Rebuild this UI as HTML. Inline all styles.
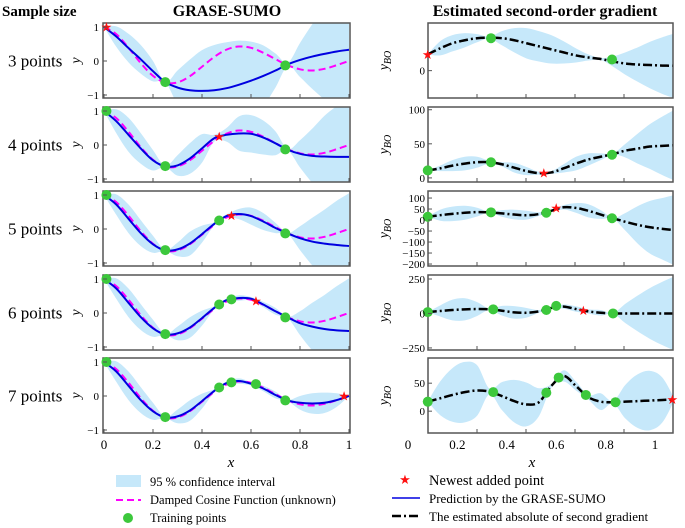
<!DOCTYPE html>
<html><head><meta charset="utf-8">
<style>
html,body{margin:0;padding:0;background:#fff;}
svg{display:block;font-family:"Liberation Serif",serif;}
</style></head>
<body>
<svg id="fig" width="685" height="528" viewBox="0 0 685 528" xmlns="http://www.w3.org/2000/svg">
<text x="2" y="16" font-size="15" font-weight="bold">Sample size</text>
<text x="227" y="16" font-size="16" font-weight="bold" text-anchor="middle">GRASE-SUMO</text>
<text x="545" y="16" font-size="16" font-weight="bold" text-anchor="middle">Estimated second-order gradient</text>
<g id="plots"></g>
<g>
<rect x="116" y="475" width="25" height="12" fill="#c6e8fa"/>
<text x="150" y="486" font-size="12.5">95 % confidence interval</text>
<line x1="116" y1="500" x2="141" y2="500" stroke="#ff00ff" stroke-width="2" stroke-dasharray="7,4"/>
<text x="150" y="504" font-size="12.5">Damped Cosine Function (unknown)</text>
<circle cx="128" cy="518" r="5" fill="#3cc83c"/>
<text x="150" y="522" font-size="12.5">Training points</text>
</g>
<g>
<text x="405" y="484" font-size="13" fill="#ff1010" text-anchor="middle">★</text>
<text x="429" y="485" font-size="14.5">Newest added point</text>
<line x1="392" y1="498" x2="420" y2="498" stroke="#0000e0" stroke-width="1.5"/>
<text x="429" y="503" font-size="13">Prediction by the GRASE-SUMO</text>
<line x1="392" y1="516" x2="420" y2="516" stroke="#000" stroke-width="2.5" stroke-dasharray="9,3,2,3"/>
<text x="429" y="521" font-size="13">The estimated absolute of second gradient</text>
</g>
</svg>
<script>
// ---------- data ----------
const lxGrid = [0,0.05,0.1,0.15,0.2,0.25,0.3,0.35,0.4,0.45,0.5,0.55,0.6,0.65,0.7,0.75,0.8,0.85,0.9,0.95,1.0];
const dampedY = [1,0.791,0.391,-0.063,-0.436,-0.635,-0.630,-0.450,-0.169,0.120,0.335,0.426,0.387,0.243,0.054,-0.127,-0.244,-0.278,-0.230,-0.122,0.001];
const pred1 = [1,0.72,0.38,0.05,-0.3,-0.62,-0.78,-0.86,-0.88,-0.86,-0.8,-0.7,-0.58,-0.44,-0.28,-0.1,0.03,0.13,0.21,0.28,0.33];
const sig1 = [0,0.3,0.42,0.42,0.3,0,0.5,0.9,1.2,1.33,1.35,1.3,1.15,0.9,0.5,0.05,0.5,0.95,1.35,1.75,2.1];
const pred2 = [1,0.7,0.3,-0.1,-0.45,-0.63,-0.6,-0.4,-0.1,0.2,0.3,0.34,0.33,0.22,0.05,-0.14,-0.26,-0.32,-0.34,-0.35,-0.35];
const sig2 = [0,0.35,0.5,0.45,0.3,0.02,0.3,0.45,0.42,0.1,0.2,0.5,0.55,0.5,0.35,0.02,0.4,0.8,1.2,1.5,1.8];
const pred3 = [1,0.72,0.3,-0.12,-0.45,-0.63,-0.6,-0.43,-0.15,0.15,0.38,0.44,0.38,0.22,0.03,-0.13,-0.27,-0.37,-0.43,-0.47,-0.5];
const sig3 = [0,0.3,0.42,0.38,0.25,0.02,0.2,0.35,0.25,0.05,0.05,0.15,0.25,0.25,0.15,0.02,0.35,0.7,1.0,1.3,1.55];
const pred4 = [1,0.72,0.3,-0.12,-0.45,-0.63,-0.6,-0.43,-0.15,0.15,0.38,0.44,0.42,0.25,0.05,-0.13,-0.3,-0.4,-0.47,-0.51,-0.53];
const sig4 = [0,0.3,0.42,0.38,0.25,0.02,0.2,0.3,0.22,0.05,0.04,0.08,0.05,0.08,0.1,0.02,0.35,0.7,1.0,1.3,1.55];
const pred5 = [1,0.72,0.3,-0.12,-0.45,-0.63,-0.6,-0.43,-0.15,0.15,0.38,0.44,0.36,0.22,0.03,-0.13,-0.2,-0.22,-0.2,-0.12,0];
const sig5 = [0,0.3,0.42,0.38,0.25,0.02,0.2,0.3,0.22,0.05,0.04,0.08,0.05,0.08,0.1,0.02,0.2,0.3,0.3,0.2,0];
const trainX1 = [0.25,0.74], trainY1 = [-0.62,-0.13], newX1 = 0.01, newY1 = 1.0;
const trainX2 = [0.01,0.25,0.74], trainY2 = [1.0,-0.62,-0.13], newX2 = 0.47, newY2 = 0.25;
const trainX3 = [0.01,0.25,0.47,0.74], trainY3 = [1.0,-0.62,0.25,-0.13], newX3 = 0.52, newY3 = 0.4;
const trainX4 = [0.01,0.25,0.47,0.52,0.74], trainY4 = [1.0,-0.62,0.25,0.4,-0.13], newX4 = 0.62, newY4 = 0.35;
const trainX5 = [0.01,0.25,0.47,0.52,0.62,0.74], trainY5 = [1.0,-0.62,0.25,0.4,0.35,-0.13], newX5 = 0.98, newY5 = 0.0;

const rxGrid = [0.08,0.13,0.18,0.23,0.28,0.33,0.38,0.43,0.48,0.53,0.58,0.63,0.68,0.73,0.78,0.83,0.88,0.93,0.98,1.03,1.08];
const grad1 = [16,22,27,30,32,32.5,32,30,27,24,21,18,15,13,11.5,9,7,6,5.5,5,4.8];
const gsig1 = [0,7,8,7,4,1,7,12,15,15,14,11,7,3,1,5,11,17,23,28,32];
const grad2 = [11,14,18,21,23,23,20,15,10,7,8,14,21,27,31,35,40,43,46,47,48];
const gsig2 = [0,4,8,10,8,2,3,7,6,2,2,6,10,9,5,1,10,22,33,43,52];
const grad3 = [15,22,28,33,36,35,30,25,22,27,42,58,55,42,25,8,-8,-22,-33,-40,-46];
const gsig3 = [0,25,33,32,20,2,15,22,20,8,5,10,22,30,20,2,40,85,120,140,160];
const grad4 = [10,18,25,30,32,30,20,8,5,15,40,50,32,15,5,0,0,0,0,0,0];
const gsig4 = [0,40,75,80,50,5,35,45,35,10,5,15,20,15,20,2,70,130,185,230,270];
const grad5 = [17,23,29,34,37,35,27,18,12,16,45,63,45,25,17,16,17,18,19,20,21];
const gsig5 = [0,30,48,54,45,5,25,38,39,25,3,10,8,4,15,2,30,48,53,40,0];
const gTrainX1 = [0.336,0.826], gTrainY1 = [32,11], gNewX1 = 0.08, gNewY1 = 16;
const gTrainX2 = [0.08,0.336,0.826], gTrainY2 = [11,23,34], gNewX2 = 0.55, gNewY2 = 7;
const gTrainX3 = [0.08,0.336,0.56,0.826], gTrainY3 = [15,35,33,8], gNewX3 = 0.60, gNewY3 = 55;
const gTrainX4 = [0.08,0.345,0.56,0.60,0.83], gTrainY4 = [10,30,25,55,0], gNewX4 = 0.71, gNewY4 = 22;
const gTrainX5 = [0.08,0.345,0.56,0.61,0.72,0.84], gTrainY5 = [17,34,33,60,29,16], gNewX5 = 1.07, gNewY5 = 21;

const rowLabels = ["3 points","4 points","5 points","6 points","7 points"];
const leftYTicks = [1,0,-1];
const leftYTickLabels = ["1","0","\u22121"];
const xTickVals = [0,0.2,0.4,0.6,0.8,1];
const xTickLabels = ["0","0.2","0.4","0.6","0.8","1"];
const rightYTicks = [[0],[100,50,0],[100,50,0,-50,-100,-150,-200],[250,0,-250],[50,0]];
const rightYRanges = [[-27,47],[-6,104],[-209,132],[-265,279],[-39,95]];

// ---------- drawing ----------
const NS = "http://www.w3.org/2000/svg";
const root = document.getElementById("plots");
function mk(tag, attrs, parent){ const e=document.createElementNS(NS,tag); for(const k in attrs) e.setAttribute(k,attrs[k]); (parent||root).appendChild(e); return e; }
function smooth(pts){
  let d="M"+pts[0][0].toFixed(2)+","+pts[0][1].toFixed(2);
  for(let i=0;i<pts.length-1;i++){
    const p0=pts[Math.max(0,i-1)],p1=pts[i],p2=pts[i+1],p3=pts[Math.min(pts.length-1,i+2)];
    const c1=[p1[0]+(p2[0]-p0[0])/6,p1[1]+(p2[1]-p0[1])/6];
    const c2=[p2[0]-(p3[0]-p1[0])/6,p2[1]-(p3[1]-p1[1])/6];
    d+="C"+c1[0].toFixed(2)+","+c1[1].toFixed(2)+" "+c2[0].toFixed(2)+","+c2[1].toFixed(2)+" "+p2[0].toFixed(2)+","+p2[1].toFixed(2);
  }
  return d;
}
function bandPath(xs,ys,ss,sx,sy){
  const up=xs.map((x,i)=>[sx(x),sy(ys[i]+ss[i])]);
  const lo=xs.map((x,i)=>[sx(x),sy(ys[i]-ss[i])]).reverse();
  return smooth(up)+smooth(lo).replace("M","L")+"Z";
}
function star(g,cx,cy,name){
  const t=mk("text",{x:cx,y:cy+4.5,"font-size":13,fill:"#ff1010","text-anchor":"middle"},g);
  t.textContent="★";
  
  
}

const tops=[23,107,191,275,358], H=75;
const LX0=103, LX1=350, RX0=428, RX1=673;
const preds=[pred1,pred2,pred3,pred4,pred5], sigs=[sig1,sig2,sig3,sig4,sig5];
const trX=[trainX1,trainX2,trainX3,trainX4,trainX5], trY=[trainY1,trainY2,trainY3,trainY4,trainY5];
const nX=[newX1,newX2,newX3,newX4,newX5], nY=[newY1,newY2,newY3,newY4,newY5];
const grads=[grad1,grad2,grad3,grad4,grad5], gsigs=[gsig1,gsig2,gsig3,gsig4,gsig5];
const gtX=[gTrainX1,gTrainX2,gTrainX3,gTrainX4,gTrainX5], gtY=[gTrainY1,gTrainY2,gTrainY3,gTrainY4,gTrainY5];
const gnX=[gNewX1,gNewX2,gNewX3,gNewX4,gNewX5], gnY=[gNewY1,gNewY2,gNewY3,gNewY4,gNewY5];

const lsx = x => 104 + x*245;
const rsx = x => 408 + x*247;

for(let p=0;p<5;p++){
  const top=tops[p], bot=top+H;
  const lsy = y => top+38 - y*34;
  // clip paths
  const defs=mk("defs",{});
  mk("rect",{x:LX0,y:top,width:LX1-LX0,height:H},mk("clipPath",{id:"cl"+p},defs));
  mk("rect",{x:RX0,y:top,width:RX1-RX0,height:H},mk("clipPath",{id:"cr"+p},defs));

  // row label
  const rl=mk("text",{x:8,y:top+H/2+6,"font-size":17});
  rl.textContent=rowLabels[p];
  
  
  const yl=mk("text",{x:80,y:top+H/2,"font-size":14,"font-style":"italic",transform:"rotate(-90 80 "+(top+H/2)+")","text-anchor":"middle"});
  yl.textContent="y";
  
  

  // ----- left panel -----
  const lg=mk("g",{"clip-path":"url(#cl"+p+")"});
  
  
  const lb=mk("path",{d:bandPath(lxGrid,preds[p],sigs[p],lsx,lsy),fill:"#c6e8fa"},lg);
  
  
  const dm=mk("path",{d:smooth(lxGrid.map((x,i)=>[lsx(x),lsy(dampedY[i])])),fill:"none",stroke:"#ff00ff","stroke-width":2,"stroke-dasharray":"7,4"},lg);
  
  
  const pl=mk("path",{d:smooth(lxGrid.map((x,i)=>[lsx(x),lsy(preds[p][i])])),fill:"none",stroke:"#0000e0","stroke-width":2},lg);
  
  
  const lf=mk("rect",{x:LX0,y:top,width:LX1-LX0,height:H,fill:"none",stroke:"#555","stroke-width":1.5});
  
  
  trX[p].forEach((x,i)=>{
    const c=mk("circle",{cx:lsx(x),cy:lsy(trY[p][i]),r:5,fill:"#3cc83c"});
    
    
  });
  star(root,lsx(nX[p]),lsy(nY[p]),'newest-point');
  leftYTicks.forEach((v,i)=>{
    const y=lsy(v);
    mk("line",{x1:LX0,y1:y,x2:LX0+4,y2:y,stroke:"#555"});
    const t=mk("text",{x:LX0-4,y:y+4,"font-size":11,"text-anchor":"end"});
    t.textContent=leftYTickLabels[i];
    
    
  });
  xTickVals.forEach(v=>{ mk("line",{x1:lsx(v),y1:bot,x2:lsx(v),y2:bot-4,stroke:"#555"}); });

  // ----- right panel -----
  const [r0,r1]=rightYRanges[p];
  const rsy = v => bot - (v-r0)/(r1-r0)*H;
  const rg=mk("g",{"clip-path":"url(#cr"+p+")"});
  
  
  const rb=mk("path",{d:bandPath(rxGrid,grads[p],gsigs[p],rsx,rsy),fill:"#c6e8fa"},rg);
  
  
  const gl=mk("path",{d:smooth(rxGrid.map((x,i)=>[rsx(x),rsy(grads[p][i])])),fill:"none",stroke:"#000","stroke-width":2.5,"stroke-dasharray":"9,3,2,3"},rg);
  
  
  const rf=mk("rect",{x:RX0,y:top,width:RX1-RX0,height:H,fill:"none",stroke:"#555","stroke-width":1.5});
  
  
  gtX[p].forEach((x,i)=>{
    const c=mk("circle",{cx:rsx(x),cy:rsy(gtY[p][i]),r:5,fill:"#3cc83c"});
    
    
  });
  star(root,Math.min(rsx(gnX[p]),RX1),rsy(gnY[p]),'gradient-newest-point');
  rightYTicks[p].forEach(v=>{
    const y=rsy(v);
    mk("line",{x1:RX0,y1:y,x2:RX0+4,y2:y,stroke:"#555"});
    const t=mk("text",{x:RX0-3,y:y+4,"font-size":11,"text-anchor":"end"});
    t.textContent=v<0?"\u2212"+(-v):String(v);
    
    
  });
  for(let k=0;k<6;k++){ const x=RX0+k*(RX1-RX0)/5; mk("line",{x1:x,y1:bot,x2:x,y2:bot-4,stroke:"#555"}); }
  const ry=mk("text",{x:388,y:top+H/2,"font-size":14,"font-style":"italic","text-anchor":"middle",transform:"rotate(-90 388 "+(top+H/2)+")"});
  ry.innerHTML='y<tspan font-size="10" dy="3">BO</tspan>';
  
  
}
// x-axis labels
xTickVals.forEach((v,i)=>{
  const t=mk("text",{x:lsx(v),y:449,"font-size":13,"text-anchor":"middle"});
  t.textContent=xTickLabels[i];
  
  
  const t2=mk("text",{x:rsx(v),y:449,"font-size":13,"text-anchor":"middle"});
  t2.textContent=xTickLabels[i];
  
  
});
const xl=mk("text",{x:231,y:467,"font-size":15,"font-style":"italic","text-anchor":"middle"});
xl.textContent="x";


const xr=mk("text",{x:532,y:467,"font-size":15,"font-style":"italic","text-anchor":"middle"});
xr.textContent="x";


</script>
</body></html>
